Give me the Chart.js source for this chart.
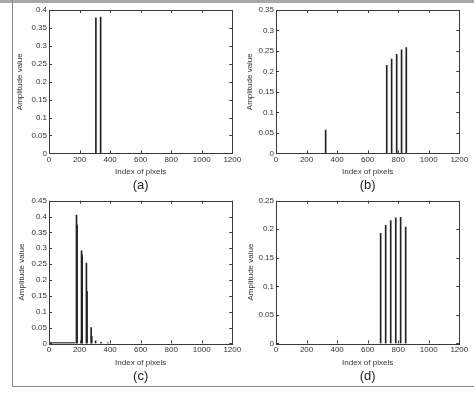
<!DOCTYPE html>
<html>
<head>
<meta charset="utf-8">
<script src="https://cdn.jsdelivr.net/npm/chart.js@4/dist/chart.umd.min.js"></script>
<style>
  html, body { margin: 0; padding: 0; background: #fff; }
  body { width: 474px; height: 398px; position: relative; overflow: hidden; }
  canvas { position: absolute; }
  .topband { position: absolute; left: 0; top: 0; width: 474px; height: 3px; background: #a8a8a8; }
  .frame { position: absolute; left: 12px; top: 0; width: 470px; height: 386px;
           border-left: 1px solid #8a8a8a; border-bottom: 1px solid #8a8a8a; }
</style>
</head>
<body>
<div class="topband"></div>
<div class="frame"></div>
<canvas id="chartA" width="250" height="193" style="left:0;top:0"></canvas>
<canvas id="chartB" width="237" height="193" style="left:237px;top:0"></canvas>
<canvas id="chartC" width="250" height="191" style="left:0;top:193px"></canvas>
<canvas id="chartD" width="237" height="191" style="left:237px;top:193px"></canvas>
<script>
// pixel index of each peak and its amplitude
const aX = [307, 338];
const aY = [0.378, 0.380];

const bX = [325, 725, 757, 790, 822, 853];
const bY = [0.057, 0.215, 0.230, 0.242, 0.253, 0.258];

const cX = [180, 184, 213, 217, 245, 249, 276, 280, 305, 340, 385];
const cY = [0.405, 0.373, 0.292, 0.279, 0.253, 0.164, 0.050, 0.022, 0.008, 0.003, 0.002];
// low-level trace at the start of (c)
const cBaseX = [0, 172];
const cBaseY = [0.001, 0.001];

const dX = [685, 718, 751, 784, 816, 849];
const dY = [0.193, 0.207, 0.215, 0.220, 0.221, 0.204];

const xTicks = [0, 1200, 200];           // min, max, step
const yMaxes = { a: 0.4, b: 0.35, c: 0.45, d: 0.25 };
const yStep = 0.05;

const FONT = 'Liberation Sans, Arial, sans-serif';
const TXT = '#333';
const INK = '#222';

function pts(xs, ys) {
  return xs.map((x, i) => ({ x: x, y: ys[i] }));
}

// matlab style box with inward ticks
const boxPlugin = {
  id: 'box',
  afterDatasetsDraw(chart) {
    const { ctx, chartArea: ca, scales } = chart;
    const L = 3;
    ctx.save();
    ctx.strokeStyle = '#3a3a3a';
    ctx.lineWidth = 1;
    ctx.beginPath();
    scales.x.ticks.forEach(t => {
      const px = Math.round(scales.x.getPixelForValue(t.value)) + 0.5;
      ctx.moveTo(px, ca.bottom); ctx.lineTo(px, ca.bottom - L);
      ctx.moveTo(px, ca.top); ctx.lineTo(px, ca.top + L);
    });
    scales.y.ticks.forEach(t => {
      const py = Math.round(scales.y.getPixelForValue(t.value)) + 0.5;
      ctx.moveTo(ca.left, py); ctx.lineTo(ca.left + L, py);
      ctx.moveTo(ca.right, py); ctx.lineTo(ca.right - L, py);
    });
    ctx.stroke();
    ctx.strokeRect(Math.round(ca.left) + 0.5, Math.round(ca.top) + 0.5,
                   Math.round(ca.right - ca.left), Math.round(ca.bottom - ca.top));
    ctx.restore();
  }
};

function makePanel(id, datasets, yMax, label, lay) {
  new Chart(document.getElementById(id), {
    type: 'bar',
    data: { datasets: datasets },
    options: {
      responsive: false,
      animation: false,
      events: [],
      layout: { padding: { left: lay.left, top: lay.top, right: lay.right, bottom: 0 } },
      plugins: {
        legend: { display: false },
        tooltip: { enabled: false },
        title: {
          display: true, position: 'bottom', text: label, fullSize: false,
          color: '#222', padding: { top: 0, bottom: 0 },
          font: { family: FONT, size: 13, weight: 'normal' }
        }
      },
      scales: {
        x: {
          type: 'linear', min: xTicks[0], max: xTicks[1], offset: false,
          grid: { display: false, drawTicks: false },
          border: { display: false },
          ticks: { stepSize: xTicks[2], padding: 2, color: TXT, maxRotation: 0,
                   font: { family: FONT, size: 8 },
                   callback: v => String(v) },
          title: { display: true, text: 'Index of pixels', color: TXT,
                   padding: { top: 2, bottom: 1 }, font: { family: FONT, size: 8 } },
          afterFit(s) { s.height = lay.xh; s.paddingLeft = 0; s.paddingRight = 0; }
        },
        y: {
          min: 0, max: yMax,
          grid: { display: false, drawTicks: false },
          border: { display: false },
          ticks: { stepSize: yStep, padding: 2, color: TXT,
                   font: { family: FONT, size: 8 },
                   callback: v => String(+v.toFixed(2)) },
          title: { display: true, text: 'Amplitude value', color: TXT,
                   padding: { top: 4, bottom: 0 }, font: { family: FONT, size: 8 } },
          afterFit(s) { s.width = lay.yw; s.paddingTop = 0; s.paddingBottom = 0; }
        }
      }
    },
    plugins: [boxPlugin]
  });
}

function spikes(xs, ys) {
  return { data: pts(xs, ys), backgroundColor: INK, barThickness: 1,
           borderWidth: 0, grouped: false };
}

makePanel('chartA', [spikes(aX, aY)], yMaxes.a, '(a)',
  { left: 11, top: 10, right: 17.7, yw: 38, xh: 24 });
makePanel('chartB', [spikes(bX, bY)], yMaxes.b, '(b)',
  { left: 4, top: 10, right: 14.7, yw: 35, xh: 24 });
makePanel('chartC', [
    spikes(cX, cY),
    { type: 'line', data: pts(cBaseX, cBaseY), borderColor: INK, borderWidth: 1.5,
      pointRadius: 0 }
  ], yMaxes.c, '(c)',
  { left: 13, top: 7.7, right: 17.7, yw: 36, xh: 25 });
makePanel('chartD', [spikes(dX, dY)], yMaxes.d, '(d)',
  { left: 5, top: 7.7, right: 14.7, yw: 34, xh: 25 });
</script>
</body>
</html>
